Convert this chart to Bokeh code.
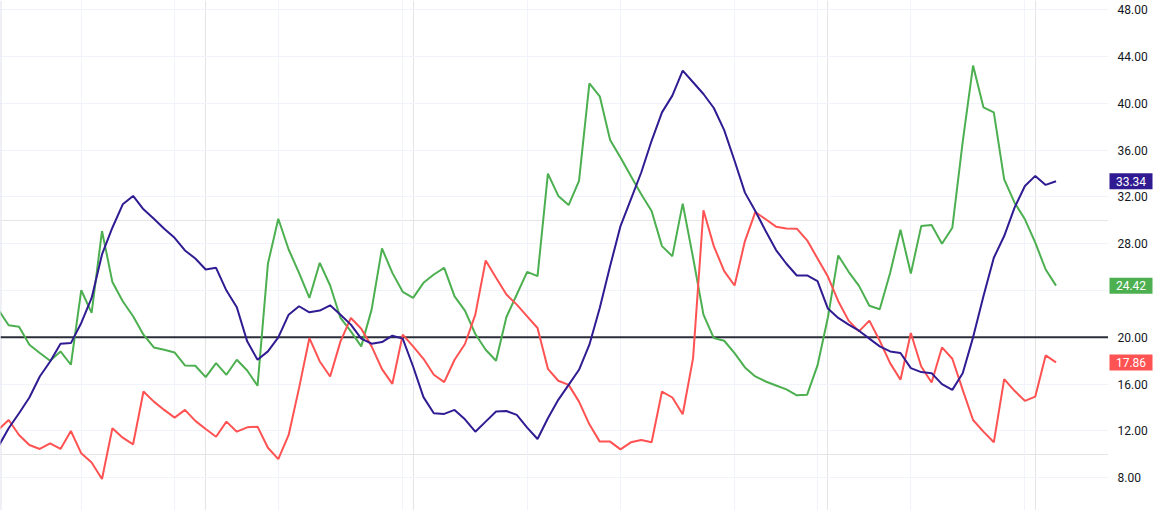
from bokeh.plotting import figure
from bokeh.layouts import row
from bokeh.models import Range1d, FixedTicker, Span, Grid
from bokeh.core.properties import value
from bokeh.embed import file_html
from bokeh.resources import INLINE

# ---- data (bar index 0..102) ----
adx = [10.66, 12.23, 13.51, 14.86, 16.66, 17.94, 19.46, 19.51, 21.23, 23.37,
       27.09, 29.37, 31.37, 32.09, 30.94, 30.14, 29.29, 28.51, 27.43, 26.74,
       25.80, 25.94, 24.00, 22.57, 19.66, 18.09, 18.80, 20.00, 21.94, 22.66,
       22.14, 22.29, 22.74, 21.94, 21.09, 19.89, 19.46, 19.60, 20.14, 19.89,
       17.51, 14.89, 13.51, 13.46, 13.80, 13.00, 11.94, 12.80, 13.66, 13.71,
       13.37, 12.29, 11.31, 13.09, 14.66, 15.94, 17.23, 19.37, 22.51, 26.09,
       29.51, 31.80, 34.09, 36.80, 39.23, 40.66, 42.80, 41.80, 40.80, 39.60,
       37.71, 35.09, 32.37, 30.80, 29.09, 27.46, 26.29, 25.29, 25.29, 24.80,
       22.46, 21.66, 21.09, 20.57, 19.89, 19.23, 18.80, 18.66, 17.37, 17.03,
       16.94, 16.00, 15.51, 16.94, 20.00, 23.51, 26.80, 28.66, 31.09, 32.94,
       33.80, 33.03, 33.34]
plus_di = [22.37, 21.03, 20.91, 19.37, 18.66, 18.00, 18.80, 17.66, 24.03, 22.09,
           29.09, 24.74, 23.09, 21.80, 20.23, 19.14, 18.94, 18.71, 17.60, 17.57,
           16.60, 17.80, 16.80, 18.09, 17.17, 15.86, 26.29, 30.14, 27.51, 25.51,
           23.37, 26.37, 24.43, 21.66, 20.51, 19.23, 22.37, 27.60, 25.51, 23.89,
           23.37, 24.66, 25.37, 25.94, 23.51, 22.29, 20.29, 18.94, 18.00, 21.74,
           23.66, 25.60, 25.23, 34.00, 32.09, 31.31, 33.37, 41.71, 40.60, 36.86,
           35.37, 33.80, 32.23, 30.80, 27.80, 26.94, 31.43, 26.80, 21.94, 19.94,
           19.71, 18.66, 17.43, 16.66, 16.23, 15.89, 15.55, 15.05, 15.10, 17.60,
           21.70, 27.00, 25.60, 24.40, 22.70, 22.40, 25.50, 29.20, 25.45, 29.51,
           29.60, 28.00, 29.37, 36.70, 43.23, 39.66, 39.23, 33.51, 31.51, 30.09,
           28.09, 25.80, 24.42]
minus_di = [12.10, 12.94, 11.66, 10.80, 10.46, 10.94, 10.46, 12.00, 10.09, 9.31,
            7.90, 12.23, 11.43, 10.86, 15.37, 14.51, 13.80, 13.14, 13.80, 12.86,
            12.17, 11.51, 12.80, 11.94, 12.31, 12.37, 10.57, 9.60, 11.66, 15.66,
            19.94, 17.94, 16.66, 19.66, 21.66, 20.74, 19.23, 17.29, 16.03, 20.23,
            19.23, 18.17, 16.80, 16.17, 18.09, 19.43, 21.94, 26.57, 25.09, 23.66,
            22.80, 21.80, 20.80, 17.31, 16.29, 15.94, 14.51, 12.57, 11.09, 11.09,
            10.43, 11.03, 11.23, 11.03, 15.37, 14.86, 13.43, 18.23, 30.86, 27.80,
            25.66, 24.43, 28.23, 30.71, 30.09, 29.46, 29.31, 29.29, 28.29, 26.74,
            25.20, 23.09, 21.43, 20.51, 21.43, 19.71, 17.80, 16.37, 20.37, 17.51,
            16.14, 19.14, 18.17, 15.51, 12.94, 11.94, 11.03, 16.43, 15.43, 14.57,
            14.94, 18.46, 17.86]
idx = list(range(len(adx)))
y_ticks = [8, 12, 16, 20, 24, 28, 32, 36, 40, 44, 48]
y_tick_labels = ["8.00", "12.00", "16.00", "20.00", "24.00", "28.00", "32.00",
                 "36.00", "40.00", "44.00", "48.00"]
x_grid = [8, 17, 27, 39, 51, 60, 71, 79, 88, 99]
level = 20

NAVY, GREEN, RED = "#311B92", "#4CAF50", "#FF5252"
GRID = "#F0F3FA"
FONT = "Roboto"

yr = Range1d(5.203, 48.79)
xr = Range1d(0.212, 107.06)

# ---- main pane ----
p = figure(width=1108, height=510, output_backend="svg", toolbar_location=None,
           x_range=xr, y_range=yr,
           x_axis_location=None, y_axis_location=None,
           min_border_left=0, min_border_top=0, min_border_bottom=0, min_border_right=0,
           background_fill_color="white", border_fill_color="white", outline_line_color=None)
p.add_layout(Grid(dimension=1, ticker=FixedTicker(ticks=y_ticks), grid_line_color=GRID, grid_line_width=1))
p.add_layout(Grid(dimension=0, ticker=FixedTicker(ticks=x_grid), grid_line_color=GRID, grid_line_width=1))
p.add_layout(Span(location=xr.start, dimension="height", line_color="#DDE2EE", line_width=2, level="underlay"))
p.add_layout(Span(location=level, dimension="width", line_color="#2A2E39", line_width=2, level="underlay"))

p.line(idx, plus_di, line_color=GREEN, line_width=2)
p.line(idx, minus_di, line_color=RED, line_width=2)
p.line(idx, adx, line_color=NAVY, line_width=2)

# ---- price scale pane (right) ----
s = figure(width=52, height=510, output_backend="svg", toolbar_location=None,
           x_range=Range1d(0, 52), y_range=yr,
           x_axis_location=None, y_axis_location=None,
           min_border_left=0, min_border_top=0, min_border_bottom=0, min_border_right=0,
           background_fill_color="white", border_fill_color="white", outline_line_color=None)
s.xgrid.visible = False
s.ygrid.visible = False

tag_vals = [adx[-1], plus_di[-1], minus_di[-1]]
tag_cols = [NAVY, GREEN, RED]

# tick labels hidden where a value tag covers them (as the price scale does)
shown = [(t, lab) for t, lab in zip(y_ticks, y_tick_labels)
         if all(abs(t - v) >= 1.0 for v in tag_vals)]
s.text(x=[9] * len(shown), y=[t for t, _ in shown], text=[lab for _, lab in shown],
       text_font=value(FONT), text_font_size="12px", text_color="#131722",
       text_align="left", text_baseline="middle")

s.rect(x=[22.5] * 3, y=tag_vals, width=43, height=16, height_units="screen",
       fill_color=tag_cols, line_color=None)
s.text(x=[22.5] * 3, y=tag_vals, text=[f"{v:.2f}" for v in tag_vals],
       text_font=value(FONT), text_font_size="12px", text_color="white",
       text_align="center", text_baseline="middle")

layout = row(p, s, spacing=0)
open("out.html", "w").write(file_html(layout, INLINE))
